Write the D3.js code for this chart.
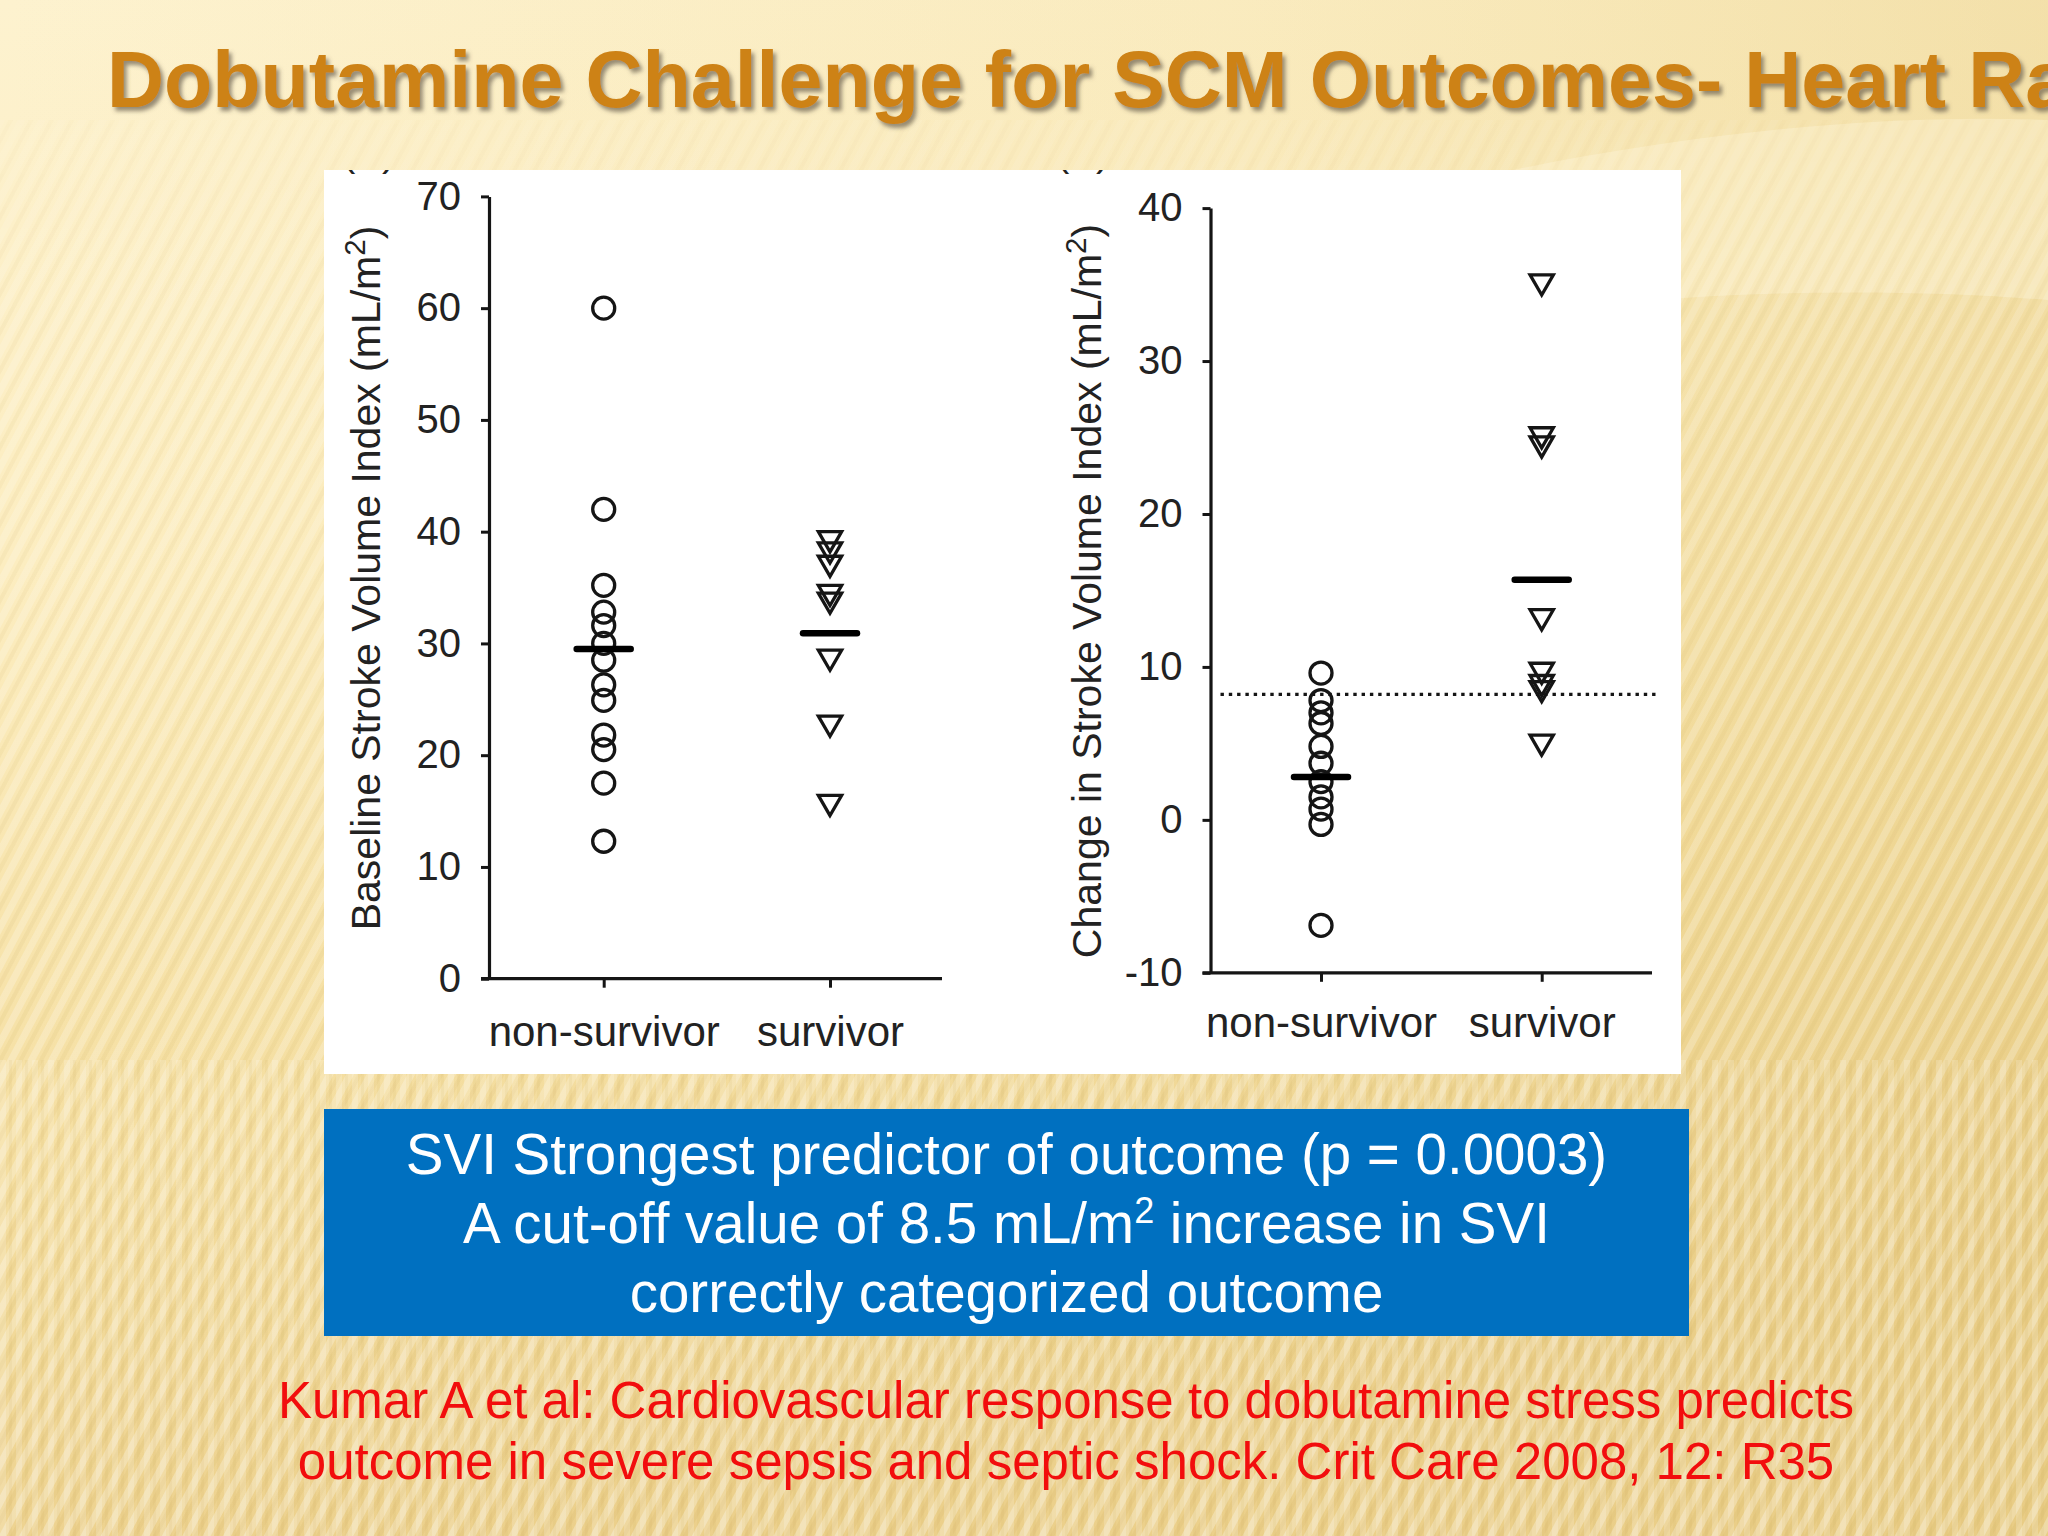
<!DOCTYPE html>
<html>
<head>
<meta charset="utf-8">
<script src="https://cdn.jsdelivr.net/npm/d3@7"></script>
<style>
  html, body { margin: 0; padding: 0; background: #fbedc0; }
  svg { display: block; }
</style>
</head>
<body>
<div id="slide"></div>
<script>
// ---- data ----
const categories = ["non-survivor", "survivor"];

// panel A: baseline stroke volume index
const baselineNonSurvivor = [60, 42, 35.2, 32.8, 31.6, 30.0, 28.5, 26.3, 24.9, 21.8, 20.5, 17.5, 12.3];
const baselineSurvivor = [39.4, 38.4, 37.2, 34.6, 33.9, 28.8, 22.9, 15.8];
const baselineMeans = [29.5, 30.9];
const baselineTicks = [0, 10, 20, 30, 40, 50, 60, 70];

// panel B: change in stroke volume index
const changeNonSurvivor = [9.6, 7.8, 7.0, 6.3, 4.8, 3.7, 2.5, 1.5, 0.7, -0.3, -6.9];
const changeSurvivor = [35.2, 25.2, 24.6, 13.3, 9.8, 9.0, 8.6, 5.1];
const changeMeans = [2.8, 15.7];
const changeTicks = [-10, 0, 10, 20, 30, 40];
const cutoff = 8.2;

const titleText = "Dobutamine Challenge for SCM Outcomes- Heart Rate";
const boxLines = [
  ["SVI Strongest predictor of outcome (p = 0.0003)"],
  ["A cut-off value of 8.5 mL/m", "2", " increase in SVI"],
  ["correctly categorized outcome"]
];
const citeLines = [
  "Kumar A et al: Cardiovascular response to dobutamine stress predicts",
  "outcome in severe sepsis and septic shock. Crit Care 2008, 12: R35"
];

const W = 2048, H = 1536;
const FONT = "'Liberation Sans', Arial, sans-serif";

const svg = d3.select('#slide').append('svg')
  .attr('width', W).attr('height', H)
  .attr('xmlns', 'http://www.w3.org/2000/svg');

const defs = svg.append('defs');

// background gradient
const bg = defs.append('linearGradient').attr('id', 'bgGrad')
  .attr('x1', 0).attr('y1', 0).attr('x2', 0.25).attr('y2', 1);
bg.append('stop').attr('offset', '0%').attr('stop-color', '#fdf2cf');
bg.append('stop').attr('offset', '35%').attr('stop-color', '#fcedc0');
bg.append('stop').attr('offset', '70%').attr('stop-color', '#f5dfa2');
bg.append('stop').attr('offset', '100%').attr('stop-color', '#ecd08c');

const side = defs.append('linearGradient').attr('id', 'sideGrad')
  .attr('x1', 0).attr('y1', 0).attr('x2', 1).attr('y2', 0);
side.append('stop').attr('offset', '0%').attr('stop-color', '#e9cf85').attr('stop-opacity', 0);
side.append('stop').attr('offset', '60%').attr('stop-color', '#e9cf85').attr('stop-opacity', 0.15);
side.append('stop').attr('offset', '100%').attr('stop-color', '#e2c577').attr('stop-opacity', 0.35);

// diagonal stripes
const stripes = defs.append('pattern').attr('id', 'stripes')
  .attr('patternUnits', 'userSpaceOnUse').attr('width', 18).attr('height', 18)
  .attr('patternTransform', 'rotate(28)');
stripes.append('rect').attr('width', 7).attr('height', 18).attr('fill', '#ffffff').attr('opacity', 0.28);
stripes.append('rect').attr('x', 10).attr('width', 4).attr('height', 18).attr('fill', '#c9a653').attr('opacity', 0.12);

const vstripes = defs.append('pattern').attr('id', 'vstripes')
  .attr('patternUnits', 'userSpaceOnUse').attr('width', 16).attr('height', 16);
vstripes.append('rect').attr('width', 6).attr('height', 16).attr('fill', '#ffffff').attr('opacity', 0.22);
vstripes.append('rect').attr('x', 9).attr('width', 3).attr('height', 16).attr('fill', '#c9a653').attr('opacity', 0.12);

const fade = defs.append('linearGradient').attr('id', 'fadeDown')
  .attr('x1', 0).attr('y1', 0).attr('x2', 0).attr('y2', 1);
fade.append('stop').attr('offset', '0%').attr('stop-color', '#fff').attr('stop-opacity', 0);
fade.append('stop').attr('offset', '20%').attr('stop-color', '#fff').attr('stop-opacity', 0.6);
fade.append('stop').attr('offset', '100%').attr('stop-color', '#fff').attr('stop-opacity', 1);
defs.append('mask').attr('id', 'stripeMask')
  .append('rect').attr('width', W).attr('height', H).attr('fill', 'url(#fadeDown)');

const shadow = defs.append('filter').attr('id', 'titleShadow')
  .attr('x', '-5%').attr('y', '-20%').attr('width', '110%').attr('height', '150%');
shadow.append('feDropShadow').attr('dx', 3).attr('dy', 4).attr('stdDeviation', 2)
  .attr('flood-color', '#5f5444').attr('flood-opacity', 0.65);

svg.append('rect').attr('width', W).attr('height', H).attr('fill', 'url(#bgGrad)');
svg.append('rect').attr('width', W).attr('height', H).attr('fill', 'url(#sideGrad)');
// soft lighter swell on the upper right
svg.append('path')
  .attr('d', 'M1280,360 C1500,300 1800,280 2048,300 L2048,120 C1800,110 1500,160 1280,230 Z')
  .attr('fill', '#fff6da').attr('opacity', 0.35);
svg.append('rect').attr('y', 120).attr('width', W).attr('height', H - 120)
  .attr('fill', 'url(#stripes)').attr('mask', 'url(#stripeMask)');
svg.append('rect').attr('y', 1060).attr('width', W).attr('height', H - 1060)
  .attr('fill', 'url(#vstripes)').attr('opacity', 0.8);

// title (runs off the right edge, as on the slide)
svg.append('text')
  .attr('x', 107).attr('y', 107)
  .attr('font-family', FONT).attr('font-weight', 'bold').attr('font-size', 79)
  .attr('fill', '#cd8216').attr('filter', 'url(#titleShadow)')
  .text(titleText);

// white figure panel
const panel = { x: 324, y: 170, w: 1357, h: 904 };
defs.append('clipPath').attr('id', 'panelClip')
  .append('rect').attr('x', panel.x).attr('y', panel.y).attr('width', panel.w).attr('height', panel.h);
svg.append('rect').attr('x', panel.x).attr('y', panel.y).attr('width', panel.w).attr('height', panel.h)
  .attr('fill', '#ffffff');

const fig = svg.append('g').attr('clip-path', 'url(#panelClip)');

// cut-off panel letters at the top edge
[['(A)', 342], ['(B)', 1056]].forEach(([t, x]) => {
  fig.append('text').attr('x', x).attr('y', 166)
    .attr('font-family', FONT).attr('font-size', 40).attr('fill', '#222').text(t);
});

const INK = '#151515';

function drawPanel(cfg) {
  const y = d3.scaleLinear().domain(cfg.yDomain).range(cfg.yRange);
  const x = d3.scalePoint().domain(categories).range(cfg.catRange);
  const g = fig.append('g');
  const y0 = cfg.yRange[0];

  // y axis
  const yAxis = g.append('g')
    .attr('transform', `translate(${cfg.axisX},0)`)
    .call(d3.axisLeft(y).tickValues(cfg.ticks).tickFormat(d => String(d))
      .tickSize(8).tickSizeOuter(0).tickPadding(20));
  yAxis.select('.domain').attr('stroke', INK).attr('stroke-width', 3.2);
  yAxis.selectAll('.tick line').attr('stroke', INK).attr('stroke-width', 3);
  yAxis.selectAll('.tick text')
    .attr('font-family', FONT).attr('font-size', 40).attr('fill', '#222');

  // x axis line + category ticks
  g.append('line')
    .attr('x1', cfg.axisX - 8).attr('x2', cfg.xEnd)
    .attr('y1', y0).attr('y2', y0)
    .attr('stroke', INK).attr('stroke-width', 3.2);
  const xAxis = g.append('g')
    .attr('transform', `translate(0,${y0})`)
    .call(d3.axisBottom(x).tickSize(9).tickSizeOuter(0).tickPadding(cfg.catPad));
  xAxis.select('.domain').remove();
  xAxis.selectAll('.tick line').attr('stroke', INK).attr('stroke-width', 3);
  xAxis.selectAll('.tick text')
    .attr('font-family', FONT).attr('font-size', 42).attr('fill', '#222');

  // axis title
  const t = g.append('text')
    .attr('transform', `translate(${cfg.titleX},${cfg.titleY}) rotate(-90)`)
    .attr('text-anchor', 'middle').attr('dominant-baseline', 'central')
    .attr('font-family', FONT).attr('font-size', cfg.titleSize).attr('fill', '#222');
  t.append('tspan').text(cfg.title);
  t.append('tspan').attr('font-size', cfg.titleSize * 0.72).attr('dy', -cfg.titleSize * 0.3).text('2');
  t.append('tspan').attr('dy', cfg.titleSize * 0.3).text(')');

  // cut-off line
  if (cfg.cutoff !== undefined) {
    g.append('line')
      .attr('x1', cfg.axisX + 10).attr('x2', cfg.xEnd + 4)
      .attr('y1', y(cfg.cutoff)).attr('y2', y(cfg.cutoff))
      .attr('stroke', INK).attr('stroke-width', 3.2)
      .attr('stroke-dasharray', '3.4 4.9');
  }

  // non-survivors: open circles
  g.append('g').selectAll('circle')
    .data(cfg.nonSurvivor).join('circle')
    .attr('cx', x(categories[0])).attr('cy', d => y(d))
    .attr('r', 11)
    .attr('fill', 'none').attr('stroke', INK).attr('stroke-width', 3.3);

  // survivors: open down-triangles
  const tri = d3.symbol().type(d3.symbolTriangle).size(235);
  g.append('g').selectAll('path')
    .data(cfg.survivor).join('path')
    .attr('d', tri)
    .attr('transform', d => `translate(${x(categories[1])},${y(d)}) rotate(180)`)
    .attr('fill', 'none').attr('stroke', INK).attr('stroke-width', 3.3)
    .attr('stroke-linejoin', 'miter');

  // group means
  g.append('g').selectAll('line')
    .data(cfg.means).join('line')
    .attr('x1', (d, i) => x(categories[i]) - 27)
    .attr('x2', (d, i) => x(categories[i]) + 27)
    .attr('y1', d => y(d)).attr('y2', d => y(d))
    .attr('stroke', '#000').attr('stroke-width', 6.5).attr('stroke-linecap', 'round');
}

drawPanel({
  yDomain: [0, 70], yRange: [978.7, 196.4], ticks: baselineTicks,
  axisX: 489, xEnd: 942, catRange: [603.7, 830], catPad: 28,
  nonSurvivor: baselineNonSurvivor, survivor: baselineSurvivor, means: baselineMeans,
  title: 'Baseline Stroke Volume Index (mL/m', titleX: 366, titleY: 578, titleSize: 41
});

drawPanel({
  yDomain: [-10, 40], yRange: [972.8, 208.1], ticks: changeTicks,
  axisX: 1210.5, xEnd: 1652, catRange: [1321, 1541.7], catPad: 25,
  nonSurvivor: changeNonSurvivor, survivor: changeSurvivor, means: changeMeans,
  cutoff: cutoff,
  title: 'Change in Stroke Volume Index (mL/m', titleX: 1087, titleY: 591, titleSize: 41
});

// blue callout box
const box = { x: 324, y: 1109, w: 1365, h: 227 };
svg.append('rect').attr('x', box.x).attr('y', box.y).attr('width', box.w).attr('height', box.h)
  .attr('fill', '#0070c0');
const cx = box.x + box.w / 2;
boxLines.forEach((parts, i) => {
  const t = svg.append('text')
    .attr('x', cx).attr('y', 1174 + i * 69)
    .attr('text-anchor', 'middle')
    .attr('font-family', FONT).attr('font-size', 56.5).attr('fill', '#ffffff');
  parts.forEach((p, j) => {
    if (parts.length === 3 && j === 1) {
      t.append('tspan').attr('font-size', 36).attr('dy', -20).text(p);
    } else if (parts.length === 3 && j === 2) {
      t.append('tspan').attr('dy', 20).text(p);
    } else {
      t.append('tspan').text(p);
    }
  });
});

// citation
citeLines.forEach((line, i) => {
  svg.append('text')
    .attr('x', 1066).attr('y', 1418 + i * 61)
    .attr('text-anchor', 'middle')
    .attr('font-family', FONT).attr('font-size', 51).attr('fill', '#f20d0d')
    .text(line);
});
</script>
</body>
</html>
